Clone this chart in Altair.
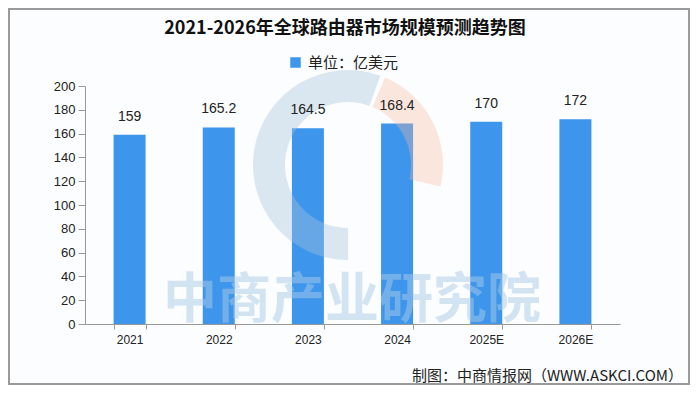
import altair as alt
import pandas as pd

years = ["2021", "2022", "2023", "2024", "2025E", "2026E"]
values = [159, 165.2, 164.5, 168.4, 170, 172]
value_labels = ["159", "165.2", "164.5", "168.4", "170", "172"]
series_name = "单位：亿美元"
y_ticks = [0, 20, 40, 60, 80, 100, 120, 140, 160, 180, 200]
title_text = "2021-2026年全球路由器市场规模预测趋势图"
footer_text = "制图：中商情报网（WWW.ASKCI.COM）"
watermark_text = "中商产业研究院"

BAR_COLOR = "#3d95ec"
CJK = "Noto Sans CJK SC"
LATIN = "Liberation Sans"

df = pd.DataFrame({"year": years, "value": values, "label": value_labels,
                   "series": [series_name] * len(years)})
one = pd.DataFrame({"title": [title_text], "footer": [footer_text], "wm": [watermark_text]})

x_axis = alt.Axis(title=None, labelAngle=0, tickBand="extent", tickSize=5,
                  labelPadding=5, labelFont=LATIN, labelFontSize=12,
                  labelColor="#222", domainColor="#999", tickColor="#999",
                  labelOverlap=False)
y_axis = alt.Axis(title=None, values=y_ticks, tickCount=11, tickSize=7,
                  labelPadding=3, labelFont=LATIN, labelFontSize=13,
                  labelColor="#222", domainColor="#999", tickColor="#999",
                  grid=False, labelOverlap=False)
x_scale = alt.Scale(paddingInner=0.64, paddingOuter=0.32)
y_scale = alt.Scale(domain=[0, 200], nice=False)

bars = alt.Chart(df).mark_bar(size=32).encode(
    x=alt.X("year:N", sort=years, scale=x_scale, axis=x_axis),
    y=alt.Y("value:Q", scale=y_scale, axis=y_axis),
    color=alt.Color("series:N", scale=alt.Scale(range=[BAR_COLOR]),
                    legend=alt.Legend(title=None, orient="none", legendX=203, legendY=-31,
                                      symbolType="square", symbolSize=110,
                                      symbolStrokeWidth=0, labelFont=CJK,
                                      labelFontSize=15, labelColor="#222",
                                      labelOffset=5))
)

labels = alt.Chart(df).mark_text(font=LATIN, fontSize=14, color="#222",
                                 baseline="middle", dy=-18).encode(
    x=alt.X("year:N", sort=years, scale=x_scale, axis=x_axis),
    y=alt.Y("value:Q", scale=y_scale, axis=y_axis),
    text="label:N")

ring = alt.Chart(one).mark_arc(innerRadius=63, outerRadius=95, color="#a8c4dc",
                               opacity=0.4).encode(
    x=alt.value(263), y=alt.value(79), theta=alt.value(3.14), theta2=alt.value(6.63))
ring2 = alt.Chart(one).mark_arc(innerRadius=63, outerRadius=95, color="#f5b9a0",
                                opacity=0.35).encode(
    x=alt.value(263), y=alt.value(79), theta=alt.value(0.4), theta2=alt.value(1.8))

wm = alt.Chart(one).mark_text(font=CJK, fontSize=54, fontWeight="bold", color="#a9cbe8",
                              opacity=0.5, align="center", baseline="middle").encode(
    x=alt.value(267), y=alt.value(216), text="wm:N")

title = alt.Chart(one).mark_text(font=CJK, fontSize=18, fontWeight="bold", color="#111",
                                 align="center", baseline="middle").encode(
    x=alt.value(260), y=alt.value(-57), text="title:N")

footer = alt.Chart(one).mark_text(font=CJK, fontSize=15, color="#222",
                                  align="right", baseline="middle").encode(
    x=alt.value(598), y=alt.value(290), text="footer:N")

frame = alt.Chart(one).mark_rect(fillOpacity=0, stroke="#9a9a9a", strokeWidth=2).encode(
    x=alt.value(-76), x2=alt.value(604), y=alt.value(-77), y2=alt.value(298))

chart = alt.layer(frame, bars, ring, ring2, wm, labels, title, footer).properties(
    width=535, height=238,
    autosize=alt.AutoSizeParams(type="none"),
    padding={"left": 77, "top": 78, "right": 72, "bottom": 61},
    background="#fcfdfe",
).configure_view(stroke=None)

chart.save("out.html", embed_options={"renderer": "svg", "actions": False})
